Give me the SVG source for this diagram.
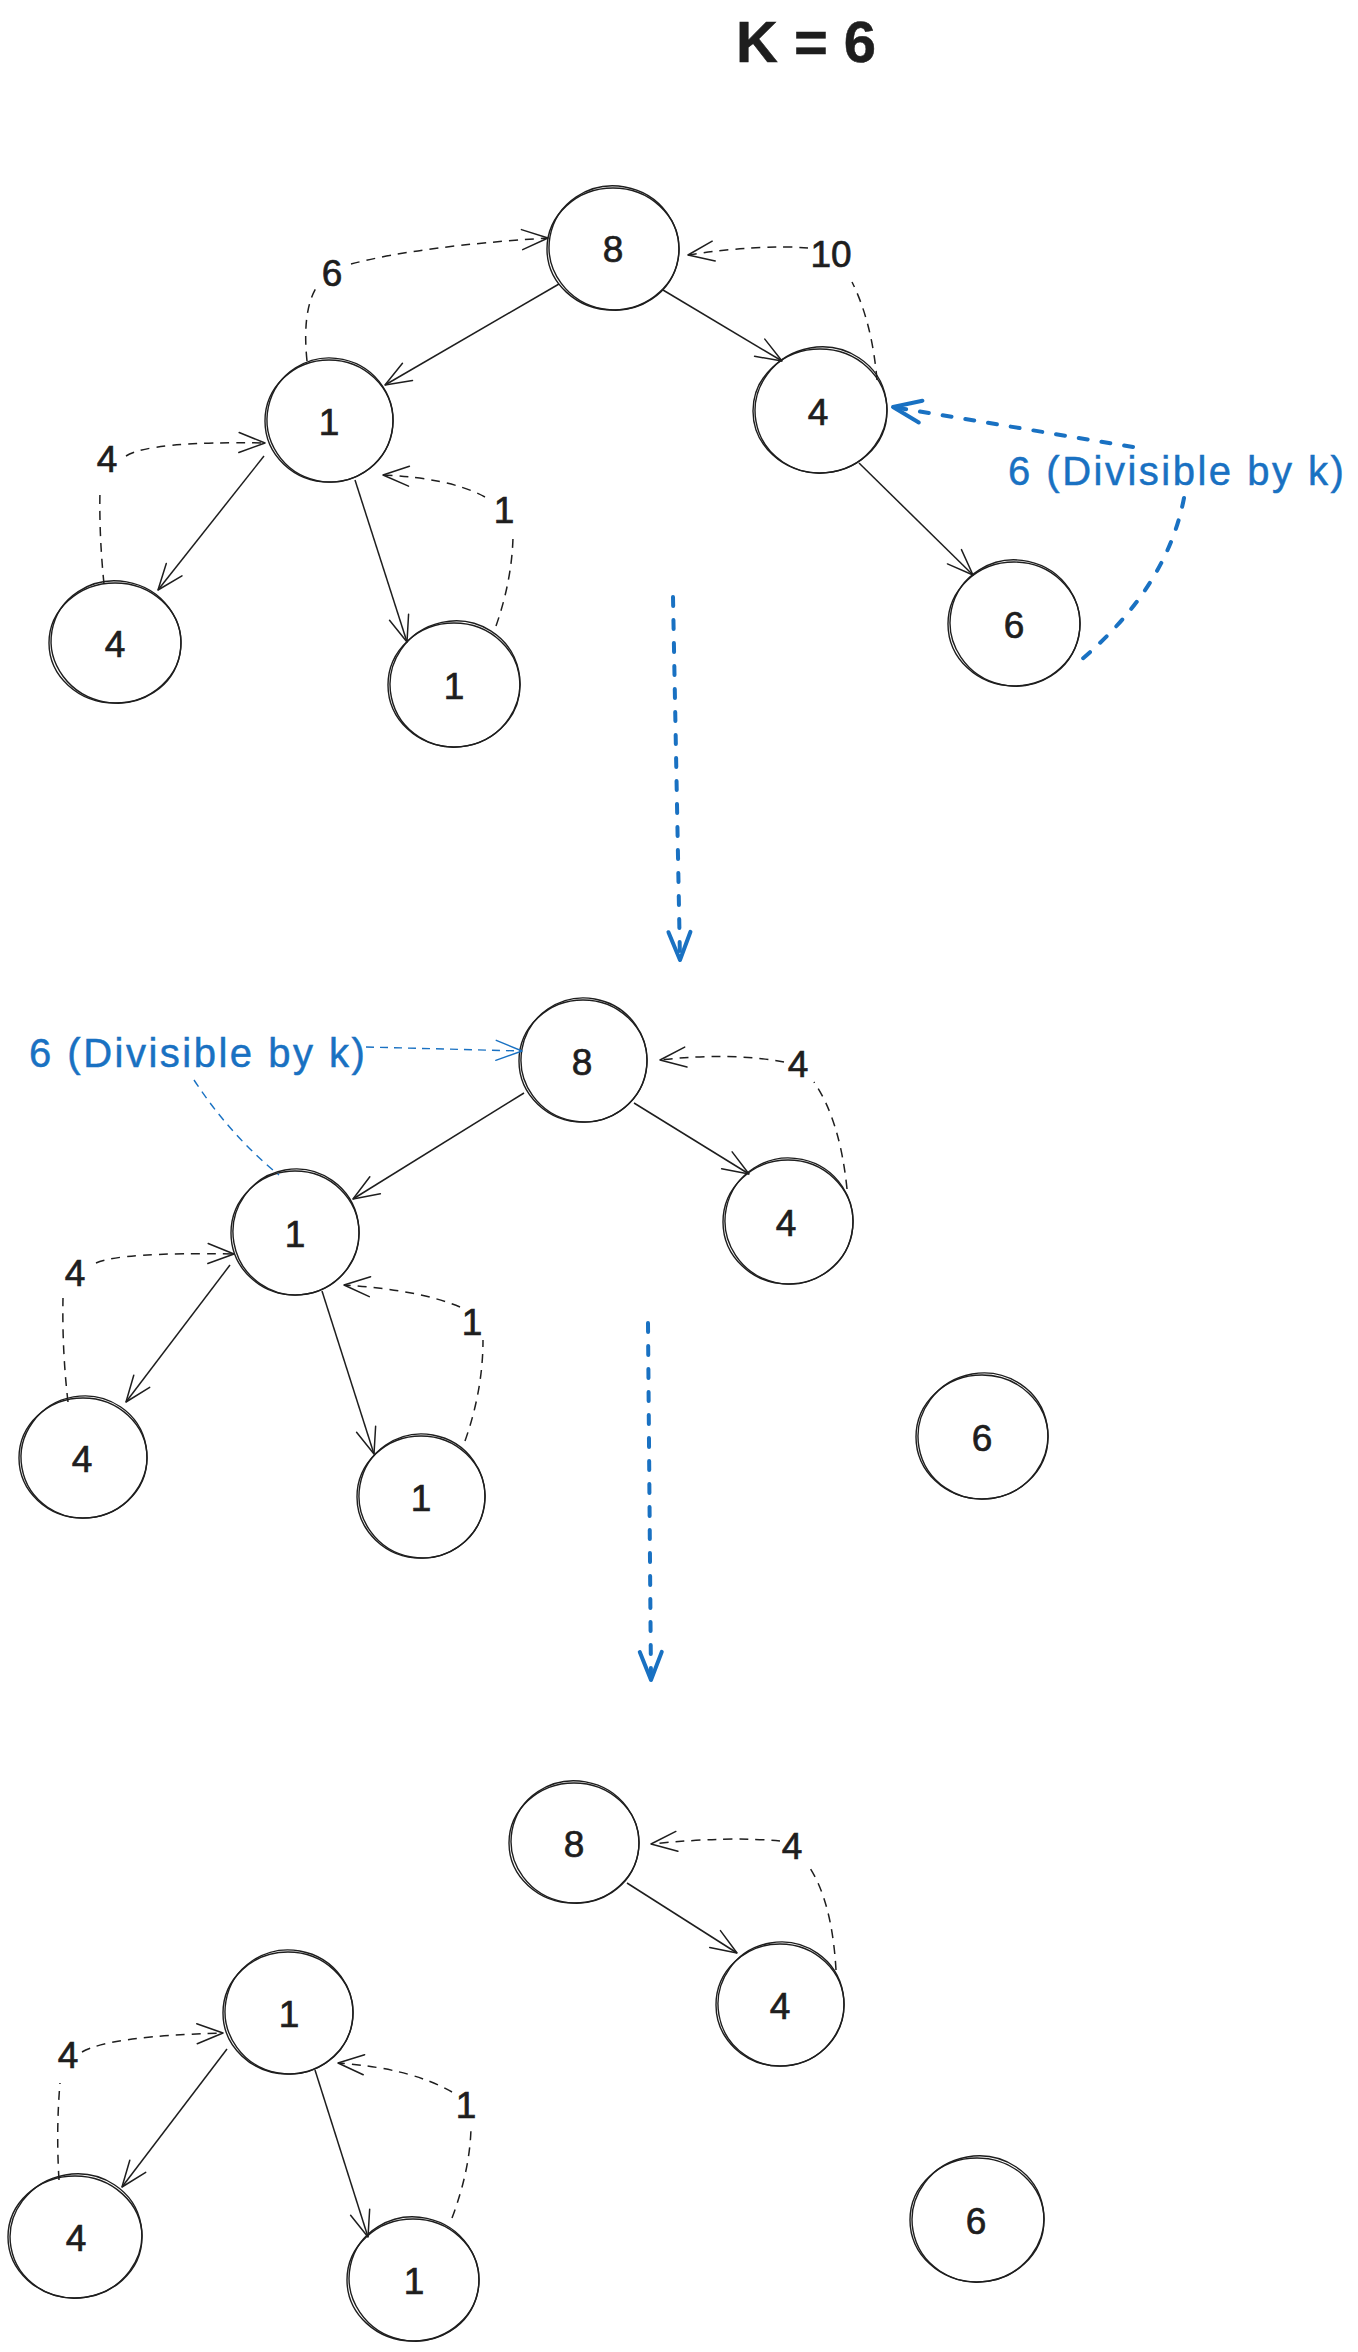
<svg xmlns="http://www.w3.org/2000/svg" width="1358" height="2352" viewBox="0 0 1358 2352">
<style>
.n ellipse{fill:none;stroke:#1e1e1e;stroke-width:1.4}
text{font-family:"Liberation Sans",Arial,sans-serif;font-size:37px;fill:#1e1e1e;stroke:#1e1e1e;stroke-width:0.7}
.n text,.lb text{text-anchor:middle}
.e{fill:none;stroke:#1e1e1e;stroke-width:1.5;marker-end:url(#ah)}
.d{fill:none;stroke:#1e1e1e;stroke-width:1.5;stroke-dasharray:9 7}
.da{fill:none;stroke:#1e1e1e;stroke-width:1.5;stroke-dasharray:9 7;marker-end:url(#ah)}
.bt{fill:none;stroke:#1971c2;stroke-width:4;stroke-dasharray:9 14;stroke-linecap:round}
.bn{fill:none;stroke:#1971c2;stroke-width:1.4;stroke-dasharray:8 6}
.blue{fill:#1971c2;stroke:#1971c2;stroke-width:0.5;font-size:40px;letter-spacing:2.5px}
.title{font-size:58px;font-weight:bold;text-anchor:middle;stroke-width:0.5}
</style>
<defs>
<marker id="ah" markerUnits="userSpaceOnUse" orient="auto" refX="0" refY="0" markerWidth="1" markerHeight="1" overflow="visible"><path d="M-26,-10 L0,0 L-26,10" fill="none" stroke="#1e1e1e" stroke-width="1.5" stroke-linecap="round" stroke-linejoin="round"/></marker>
<marker id="ahb" markerUnits="userSpaceOnUse" orient="auto" refX="0" refY="0" markerWidth="1" markerHeight="1" overflow="visible"><path d="M-28,-11 L0,0 L-28,11" fill="none" stroke="#1971c2" stroke-width="4" stroke-linecap="round" stroke-linejoin="round"/></marker>
<marker id="ahbt" markerUnits="userSpaceOnUse" orient="auto" refX="0" refY="0" markerWidth="1" markerHeight="1" overflow="visible"><path d="M-26,-10 L0,0 L-26,10" fill="none" stroke="#1971c2" stroke-width="1.4" stroke-linecap="round" stroke-linejoin="round"/></marker>
</defs>

<text id="title" class="title" x="806" y="62">K = 6</text>

<!-- Tree 1 -->
<g id="t1-n8" class="n"><ellipse cx="613" cy="249" rx="66" ry="61"/><ellipse cx="614" cy="248" rx="65" ry="62" transform="rotate(10 614 248)"/><text x="613" y="262">8</text></g>
<g id="t1-n1" class="n"><ellipse cx="329" cy="421" rx="64" ry="61"/><ellipse cx="330" cy="420" rx="63" ry="62" transform="rotate(12 330 420)"/><text x="329" y="435">1</text></g>
<g id="t1-n4r" class="n"><ellipse cx="820" cy="411" rx="67" ry="62"/><ellipse cx="821" cy="410" rx="66" ry="63" transform="rotate(-10 821 410)"/><text x="818" y="425">4</text></g>
<g id="t1-n4l" class="n"><ellipse cx="115" cy="643" rx="66" ry="60"/><ellipse cx="116" cy="642" rx="65" ry="61" transform="rotate(10 116 642)"/><text x="115" y="657">4</text></g>
<g id="t1-n1b" class="n"><ellipse cx="454" cy="685" rx="66" ry="62"/><ellipse cx="455" cy="684" rx="65" ry="63" transform="rotate(-12 455 684)"/><text x="454" y="699">1</text></g>
<g id="t1-n6" class="n"><ellipse cx="1014" cy="624" rx="66" ry="62"/><ellipse cx="1015" cy="623" rx="65" ry="63" transform="rotate(12 1015 623)"/><text x="1014" y="638">6</text></g>

<!-- Tree 2 -->
<g id="t2-n8" class="n"><ellipse cx="583" cy="1061" rx="64" ry="61"/><ellipse cx="584" cy="1060" rx="63" ry="62" transform="rotate(10 584 1060)"/><text x="582" y="1075">8</text></g>
<g id="t2-n1" class="n"><ellipse cx="295" cy="1233" rx="64" ry="62"/><ellipse cx="296" cy="1232" rx="63" ry="63" transform="rotate(-10 296 1232)"/><text x="295" y="1247">1</text></g>
<g id="t2-n4r" class="n"><ellipse cx="788" cy="1222" rx="65" ry="62"/><ellipse cx="789" cy="1221" rx="64" ry="63" transform="rotate(12 789 1221)"/><text x="786" y="1236">4</text></g>
<g id="t2-n4l" class="n"><ellipse cx="83" cy="1458" rx="64" ry="60"/><ellipse cx="84" cy="1457" rx="63" ry="61" transform="rotate(-10 84 1457)"/><text x="82" y="1472">4</text></g>
<g id="t2-n1b" class="n"><ellipse cx="421" cy="1497" rx="64" ry="61"/><ellipse cx="422" cy="1496" rx="63" ry="62" transform="rotate(10 422 1496)"/><text x="421" y="1511">1</text></g>
<g id="t2-n6" class="n"><ellipse cx="982" cy="1437" rx="66" ry="62"/><ellipse cx="983" cy="1436" rx="65" ry="63" transform="rotate(-10 983 1436)"/><text x="982" y="1451">6</text></g>

<!-- Tree 3 -->
<g id="t3-n8" class="n"><ellipse cx="574" cy="1843" rx="65" ry="60"/><ellipse cx="575" cy="1842" rx="64" ry="61" transform="rotate(10 575 1842)"/><text x="574" y="1857">8</text></g>
<g id="t3-n4r" class="n"><ellipse cx="780" cy="2005" rx="64" ry="61"/><ellipse cx="781" cy="2004" rx="63" ry="62" transform="rotate(-10 781 2004)"/><text x="780" y="2019">4</text></g>
<g id="t3-n1" class="n"><ellipse cx="288" cy="2013" rx="65" ry="61"/><ellipse cx="289" cy="2012" rx="64" ry="62" transform="rotate(10 289 2012)"/><text x="289" y="2027">1</text></g>
<g id="t3-n4l" class="n"><ellipse cx="75" cy="2237" rx="67" ry="61"/><ellipse cx="76" cy="2236" rx="66" ry="62" transform="rotate(-10 76 2236)"/><text x="76" y="2251">4</text></g>
<g id="t3-n1b" class="n"><ellipse cx="413" cy="2280" rx="66" ry="61"/><ellipse cx="414" cy="2279" rx="65" ry="62" transform="rotate(12 414 2279)"/><text x="414" y="2294">1</text></g>
<g id="t3-n6" class="n"><ellipse cx="977" cy="2220" rx="67" ry="62"/><ellipse cx="978" cy="2219" rx="66" ry="63" transform="rotate(-10 978 2219)"/><text x="976" y="2234">6</text></g>

<g id="connectors">
  <!-- Tree 1 -->
  <path class="e" d="M559,284 L385,385"/>
  <path class="e" d="M663,290 L782,361"/>
  <path class="e" d="M264,456 L158,590"/>
  <path class="e" d="M355,480 L407,642"/>
  <path class="e" d="M859,463 L973,575"/>
  <g class="lb"><path class="d" d="M307,361 Q302,312 316,288"/><path class="da" d="M351,264 Q420,246 548,238"/><text x="332" y="286">6</text></g>
  <g class="lb"><path class="d" d="M877,380 Q872,322 852,282"/><path class="da" d="M808,248 Q760,244 688,255"/><text x="831" y="267">10</text></g>
  <g class="lb"><path class="d" d="M104,584 Q99,535 100,490"/><path class="da" d="M126,456 Q150,441 265,443"/><text x="107" y="472">4</text></g>
  <g class="lb"><path class="d" d="M496,626 Q512,580 513,537"/><path class="da" d="M485,497 Q450,478 383,475"/><text x="504" y="523">1</text></g>
  <g><path class="bt" d="M1133,447 L893,407" marker-end="url(#ahb)"/><path class="bt" d="M1184,498 Q1167,587 1081,660"/><text class="blue" x="1008" y="485">6 (Divisible by k)</text></g>
  <path class="bt" d="M673,597 L680,960" marker-end="url(#ahb)"/>

  <!-- Tree 2 -->
  <path class="e" d="M524,1093 L353,1199"/>
  <path class="e" d="M634,1103 L749,1174"/>
  <path class="e" d="M230,1265 L126,1402"/>
  <path class="e" d="M322,1291 L374,1454"/>
  <g class="lb"><path class="d" d="M847,1189 Q840,1120 814,1082"/><path class="da" d="M784,1062 Q730,1052 660,1060"/><text x="798" y="1077">4</text></g>
  <g class="lb"><path class="d" d="M68,1402 Q62,1350 63,1298"/><path class="da" d="M96,1263 Q120,1252 234,1254"/><text x="75" y="1286">4</text></g>
  <g class="lb"><path class="d" d="M465,1441 Q483,1390 483,1340"/><path class="da" d="M460,1307 Q420,1290 344,1285"/><text x="472" y="1335">1</text></g>
  <g><path class="bn" d="M366,1047 L522,1051" marker-end="url(#ahbt)"/><path class="bn" d="M194,1080 Q230,1135 279,1175"/><text class="blue" x="29" y="1067">6 (Divisible by k)</text></g>
  <path class="bt" d="M648,1323 L651,1680" marker-end="url(#ahb)"/>

  <!-- Tree 3 -->
  <path class="e" d="M627,1883 L737,1953"/>
  <path class="e" d="M227,2049 L122,2187"/>
  <path class="e" d="M315,2070 L368,2237"/>
  <g class="lb"><path class="d" d="M836,1970 Q832,1900 808,1865"/><path class="da" d="M780,1841 Q730,1836 651,1844"/><text x="792" y="1859">4</text></g>
  <g class="lb"><path class="d" d="M59,2180 Q56,2130 60,2083"/><path class="da" d="M82,2052 Q110,2036 223,2033"/><text x="68" y="2068">4</text></g>
  <g class="lb"><path class="d" d="M452,2218 Q470,2170 471,2128"/><path class="da" d="M452,2092 Q410,2068 338,2063"/><text x="466" y="2118">1</text></g>
</g>
</svg>
